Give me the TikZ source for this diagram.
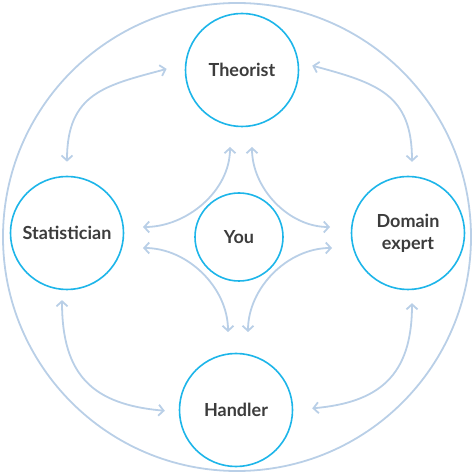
\documentclass[tikz,border=0pt]{standalone}
\usepackage{fontspec}
\setmainfont{Lato}
\usetikzlibrary{arrows.meta}
\definecolor{ringblue}{HTML}{1DB5E9}
\definecolor{linkblue}{HTML}{B9CFE7}
\definecolor{labelgray}{HTML}{3C3C3C}
\begin{document}
\begin{tikzpicture}[x=1pt,y=1pt,>={Straight Barb[length=5pt,width=11pt]},
	font=\fontsize{18}{22}\selectfont\bfseries,
	role/.style={circle,draw=ringblue,line width=1.6pt,text=labelgray,minimum size=113pt,inner sep=0pt,align=center},
	link/.style={<->,draw=linkblue,line width=1.8pt}]
	\useasboundingbox (0,0) rectangle (474,474);
	% outer ring
	\draw[linkblue,line width=1.8pt] (237,237) circle (234);
	% people
	\node[role] (theorist) at (242,404) {Theorist};
	\node[role] (stat) at (67,241) {Statistician};
	\node[role] (domain) at (408,241) {Domain\\expert};
	\node[role] (handler) at (236,64) {Handler};
	\node[role,minimum size=88pt] (you) at (239,237) {You};
	% links between the roles
	\draw[link,shorten <=19pt,shorten >=14pt] (theorist.174) to[out=195,in=90,looseness=1.3] (stat.north);
	\draw[link,shorten <=14pt,shorten >=14pt] (theorist.8) to[out=-15,in=90,looseness=1.3] (domain.86);
	\draw[link,shorten <=10pt,shorten >=14pt] (stat.-95) to[out=-90,in=175,looseness=1.3] (handler.182);
	\draw[link,shorten <=13pt,shorten >=19pt] (domain.-86) to[out=-90,in=5,looseness=1.3] (handler.0);
	% links around you
	\draw[link] (143,247) to[out=0,in=-90,looseness=0.95] (230,327);
	\draw[link] (252,327) to[out=-90,in=180,looseness=0.95] (330,247);
	\draw[link] (143,226) to[out=0,in=90,looseness=0.95] (228,142);
	\draw[link] (332,226) to[out=180,in=90,looseness=0.95] (248,142);
\end{tikzpicture}
\end{document}
